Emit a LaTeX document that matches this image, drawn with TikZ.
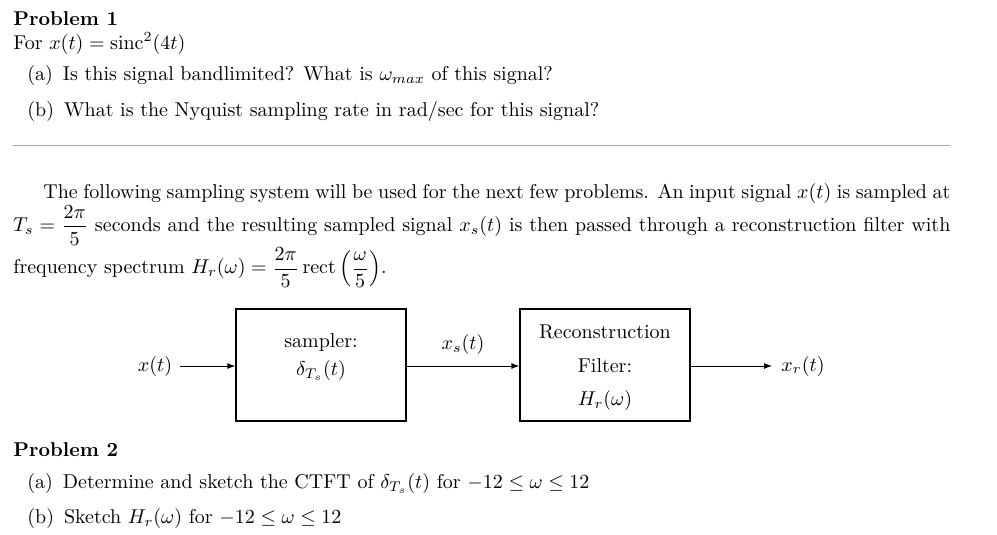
\documentclass[tikz,border=0pt]{standalone}
\usepackage{amsmath}
\usetikzlibrary{arrows.meta}
\begin{document}
\begin{tikzpicture}[x=0.5pt,y=-0.5pt,
  txt/.style={anchor=base west,inner sep=0pt},
  blk/.style={draw,line width=0.6pt,minimum width=85pt,minimum height=56pt,inner sep=0pt},
  arr/.style={-{Latex[length=4pt,width=3pt]},line width=0.5pt}]
\useasboundingbox (0,0) rectangle (997,535);
\node[txt] (p1) at (13,26) {\textbf{Problem 1}};
\node[txt] (for) at (13,50) {For $x(t)=\mathrm{sinc}^2(4t)$};
\node[txt] (qa) at (27,81) {(a)\enspace Is this signal bandlimited? What is $\omega_{max}$ of this signal?};
\node[txt] (qb) at (27,117) {(b)\enspace What is the Nyquist sampling rate in rad/sec for this signal?};
\draw[gray!70,line width=0.4pt] (13,145) -- (950,145);
\node[anchor=north west,inner sep=0pt,text width=468.5pt,align=justify] (par) at (13,183)
{\hspace*{15pt}The following sampling system will be used for the next few problems. An input signal $x(t)$ is sampled at\linebreak
$T_s=\dfrac{2\pi}{5}$ seconds and the resulting sampled signal $x_s(t)$ is then passed through a reconstruction filter with\linebreak
frequency spectrum $H_r(\omega)=\dfrac{2\pi}{5}\,\mathrm{rect}\left(\dfrac{\omega}{5}\right)$.};
\node[blk] (s) at (321,365) {};
\node[blk] (r) at (605,365) {};
\node (s1) at (321,342) {sampler:};
\node (s2) at (321,370) {$\delta_{T_s}(t)$};
\node (r1) at (605,332) {Reconstruction};
\node (r2) at (605,366) {Filter:};
\node (r3) at (605,400) {$H_r(\omega)$};
\node[inner sep=1pt] (x) at (155,366) {$x(t)$};
\node[inner sep=1pt] (xr) at (803,366) {$x_r(t)$};
\coordinate (xe) at (180,366);
\coordinate (xre) at (772,366);
\draw[arr] (xe) -- (s.west|-xe);
\draw[arr] (s.east|-xe) -- node[above=2pt] (xs) {$x_s(t)$} (r.west|-xe);
\draw[arr] (r.east|-xe) -- (xre);
\node[txt] (p2) at (13,456) {\textbf{Problem 2}};
\node[txt] (pa) at (27,488) {(a)\enspace Determine and sketch the CTFT of $\delta_{T_s}(t)$ for $-12\le\omega\le12$};
\node[txt] (pb) at (27,523) {(b)\enspace Sketch $H_r(\omega)$ for $-12\le\omega\le12$};
\end{tikzpicture}
\end{document}
